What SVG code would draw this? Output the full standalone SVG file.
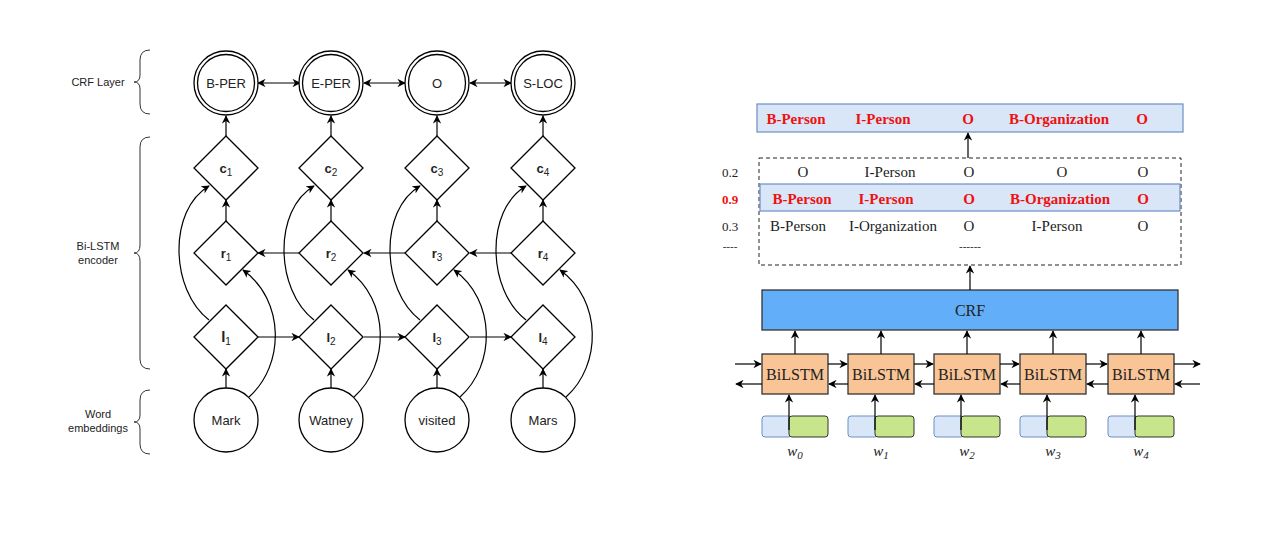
<svg xmlns="http://www.w3.org/2000/svg" width="1288" height="558" viewBox="0 0 1288 558">
<defs>
<marker id="a" viewBox="0 0 10 10" refX="9" refY="5" markerWidth="7" markerHeight="7" orient="auto-start-reverse"><path d="M0,0 L10,5 L0,10 L3,5 z" fill="#000"/></marker>
<style>
.s{font-family:"Liberation Sans",Arial,sans-serif;font-size:13px;text-anchor:middle;fill:#222}
.t{font-family:"Liberation Serif","Times New Roman",serif;font-size:15px;text-anchor:middle;fill:#222}
.r{fill:#ee1111;font-weight:bold}
.n{fill:#fff;stroke:#000;stroke-width:1.3}
.l{fill:none;stroke:#000;stroke-width:1.2}
.b{fill:none;stroke:#333;stroke-width:1}
.lb{fill:#f9c596;stroke:#333;stroke-width:1.3}
.eb{fill:#d8e6f8;stroke:#6d8fc4;stroke-width:1}
.eg{fill:#c7e58a;stroke:#333;stroke-width:1}
</style>
</defs>
<rect width="1288" height="558" fill="#fff"/>
<g id="braces" class="b">
<path d="M150,50 Q140,50 140,60 L140,75 Q140,82 134,82 Q140,82 140,89 L140,104 Q140,114 150,114"/>
<path d="M150,137 Q140,137 140,147 L140,245 Q140,253 134,253 Q140,253 140,261 L140,359 Q140,369 150,369"/>
<path d="M150,390 Q140,390 140,400 L140,415 Q140,422 134,422 Q140,422 140,429 L140,444 Q140,454 150,454"/>
</g>
<g id="left-labels" class="s" font-size="11">
<text x="98" y="86" font-size="11">CRF Layer</text>
<text x="98" y="250" font-size="11">Bi-LSTM</text>
<text x="98" y="264" font-size="11">encoder</text>
<text x="98" y="418" font-size="11">Word</text>
<text x="98" y="432" font-size="11">embeddings</text>
</g>
<g id="connectors-left" class="l" marker-end="url(#a)">
<path d="M258,83 L300,83" marker-start="url(#a)"/>
<path d="M364,83 L405,83" marker-start="url(#a)"/>
<path d="M470,83 L511,83" marker-start="url(#a)"/>
<g id="up">
<path d="M226,136 L226,116"/><path d="M331,136 L331,116"/><path d="M437,136 L437,116"/><path d="M543,136 L543,116"/>
<path d="M226,221 L226,200"/><path d="M331,221 L331,200"/><path d="M437,221 L437,200"/><path d="M543,221 L543,200"/>
<path d="M226,388 L226,369"/><path d="M331,388 L331,369"/><path d="M437,388 L437,369"/><path d="M543,388 L543,369"/>
</g>
<path d="M511,253 L470,253"/><path d="M405,253 L364,253"/><path d="M299,253 L258,253"/>
<path d="M258,337 L299,337"/><path d="M364,337 L405,337"/><path d="M470,337 L511,337"/>
<path d="M209,320 C170,290 168,210 209,186"/><path d="M314,320 C275,290 273,210 314,186"/><path d="M420,320 C381,290 379,210 420,186"/><path d="M526,320 C487,290 485,210 526,186"/>
<path d="M249,397 C285,365 285,300 243,270"/><path d="M354,397 C390,365 390,300 348,270"/><path d="M460,397 C496,365 496,300 454,270"/><path d="M566,397 C602,365 602,300 560,270"/>
</g>
<g id="crf-nodes" class="s">
<g id="bper"><circle cx="226" cy="83" r="32" class="n"/><circle cx="226" cy="83" r="28.5" class="n"/><text x="226" y="88">B-PER</text></g>
<g id="eper"><circle cx="331" cy="83" r="32" class="n"/><circle cx="331" cy="83" r="28.5" class="n"/><text x="331" y="88">E-PER</text></g>
<g id="o"><circle cx="437" cy="83" r="32" class="n"/><circle cx="437" cy="83" r="28.5" class="n"/><text x="437" y="88">O</text></g>
<g id="sloc"><circle cx="543" cy="83" r="32" class="n"/><circle cx="543" cy="83" r="28.5" class="n"/><text x="543" y="88">S-LOC</text></g>
</g>
<g id="diamonds" class="s">
<g id="c1"><path d="M226,136 L258,168 L226,200 L194,168z" class="n"/><text x="226" y="173"><tspan font-weight="bold">c</tspan><tspan font-size="10" dy="3">1</tspan></text></g>
<g id="c2"><path d="M331,136 L363,168 L331,200 L299,168z" class="n"/><text x="331" y="173"><tspan font-weight="bold">c</tspan><tspan font-size="10" dy="3">2</tspan></text></g>
<g id="c3"><path d="M437,136 L469,168 L437,200 L405,168z" class="n"/><text x="437" y="173"><tspan font-weight="bold">c</tspan><tspan font-size="10" dy="3">3</tspan></text></g>
<g id="c4"><path d="M543,136 L575,168 L543,200 L511,168z" class="n"/><text x="543" y="173"><tspan font-weight="bold">c</tspan><tspan font-size="10" dy="3">4</tspan></text></g>
<g id="r1"><path d="M226,221 L258,253 L226,285 L194,253z" class="n"/><text x="226" y="258"><tspan font-weight="bold">r</tspan><tspan font-size="10" dy="3">1</tspan></text></g>
<g id="r2"><path d="M331,221 L363,253 L331,285 L299,253z" class="n"/><text x="331" y="258"><tspan font-weight="bold">r</tspan><tspan font-size="10" dy="3">2</tspan></text></g>
<g id="r3"><path d="M437,221 L469,253 L437,285 L405,253z" class="n"/><text x="437" y="258"><tspan font-weight="bold">r</tspan><tspan font-size="10" dy="3">3</tspan></text></g>
<g id="r4"><path d="M543,221 L575,253 L543,285 L511,253z" class="n"/><text x="543" y="258"><tspan font-weight="bold">r</tspan><tspan font-size="10" dy="3">4</tspan></text></g>
<g id="l1"><path d="M226,305 L258,337 L226,369 L194,337z" class="n"/><text x="226" y="342"><tspan font-weight="bold" font-size="15">l</tspan><tspan font-size="10" dy="3">1</tspan></text></g>
<g id="l2"><path d="M331,305 L363,337 L331,369 L299,337z" class="n"/><text x="331" y="342"><tspan font-weight="bold">l</tspan><tspan font-size="10" dy="3">2</tspan></text></g>
<g id="l3"><path d="M437,305 L469,337 L437,369 L405,337z" class="n"/><text x="437" y="342"><tspan font-weight="bold">l</tspan><tspan font-size="10" dy="3">3</tspan></text></g>
<g id="l4"><path d="M543,305 L575,337 L543,369 L511,337z" class="n"/><text x="543" y="342"><tspan font-weight="bold">l</tspan><tspan font-size="10" dy="3">4</tspan></text></g>
</g>
<g id="words" class="s">
<g id="mark"><circle cx="226" cy="420" r="32" class="n"/><text x="226" y="425">Mark</text></g>
<g id="watney"><circle cx="331" cy="420" r="32" class="n"/><text x="331" y="425">Watney</text></g>
<g id="visited"><circle cx="437" cy="420" r="32" class="n"/><text x="437" y="425">visited</text></g>
<g id="mars"><circle cx="543" cy="420" r="32" class="n"/><text x="543" y="425">Mars</text></g>
</g>
<!-- right diagram -->
<g id="result" class="t">
<rect x="757" y="104" width="426" height="28" fill="#d8e6f8" stroke="#6d8fc4" stroke-width="1.2"/>
<text x="796" y="124" class="r">B-Person</text><text x="883" y="124" class="r">I-Person</text><text x="968" y="124" class="r">O</text><text x="1059" y="124" class="r">B-Organization</text><text x="1142" y="124" class="r">O</text>
</g>
<g id="candidates" class="t">
<rect x="759" y="158" width="422" height="107" fill="none" stroke="#222" stroke-dasharray="4,3"/>
<rect x="760" y="184" width="420" height="27" fill="#d8e6f8" stroke="#6d8fc4" stroke-width="1.2"/>
<text x="730" y="177" font-size="13">0.2</text>
<text x="730" y="204" font-size="13" class="r">0.9</text>
<text x="730" y="231" font-size="13">0.3</text>
<text x="730" y="250" font-size="11">----</text>
<text x="803" y="177">O</text><text x="890" y="177">I-Person</text><text x="969" y="177">O</text><text x="1062" y="177">O</text><text x="1143" y="177">O</text>
<text x="802" y="204" class="r">B-Person</text><text x="886" y="204" class="r">I-Person</text><text x="969" y="204" class="r">O</text><text x="1060" y="204" class="r">B-Organization</text><text x="1143" y="204" class="r">O</text>
<text x="798" y="231">B-Person</text><text x="893" y="231">I-Organization</text><text x="969" y="231">O</text><text x="1057" y="231">I-Person</text><text x="1143" y="231">O</text>
<text x="970" y="250" font-size="11">------</text>
</g>
<g id="crf" class="t"><rect x="762" y="290" width="416" height="40" fill="#62aef8" stroke="#333" stroke-width="1.3"/><text x="970" y="316" font-size="16">CRF</text></g>
<g id="bilstm" class="t" font-size="16">
<g id="b0"><rect x="762" y="354" width="66" height="40" class="lb"/><text x="795" y="380" font-size="16">BiLSTM</text></g>
<g id="b1"><rect x="848" y="354" width="66" height="40" class="lb"/><text x="881" y="380" font-size="16">BiLSTM</text></g>
<g id="b2"><rect x="934" y="354" width="66" height="40" class="lb"/><text x="967" y="380" font-size="16">BiLSTM</text></g>
<g id="b3"><rect x="1020" y="354" width="66" height="40" class="lb"/><text x="1053" y="380" font-size="16">BiLSTM</text></g>
<g id="b4"><rect x="1108" y="354" width="66" height="40" class="lb"/><text x="1141" y="380" font-size="16">BiLSTM</text></g>
</g>
<g id="embeddings">
<g id="e0"><rect x="762" y="416" width="30" height="21" rx="3" class="eb"/><rect x="789" y="416" width="39" height="21" rx="3" class="eg"/><text x="795" y="456" class="t" font-style="italic">w<tspan font-size="11" dy="3">0</tspan></text></g>
<g id="e1"><rect x="848" y="416" width="30" height="21" rx="3" class="eb"/><rect x="875" y="416" width="39" height="21" rx="3" class="eg"/><text x="881" y="456" class="t" font-style="italic">w<tspan font-size="11" dy="3">1</tspan></text></g>
<g id="e2"><rect x="934" y="416" width="30" height="21" rx="3" class="eb"/><rect x="961" y="416" width="39" height="21" rx="3" class="eg"/><text x="967" y="456" class="t" font-style="italic">w<tspan font-size="11" dy="3">2</tspan></text></g>
<g id="e3"><rect x="1020" y="416" width="30" height="21" rx="3" class="eb"/><rect x="1047" y="416" width="39" height="21" rx="3" class="eg"/><text x="1053" y="456" class="t" font-style="italic">w<tspan font-size="11" dy="3">3</tspan></text></g>
<g id="e4"><rect x="1108" y="416" width="30" height="21" rx="3" class="eb"/><rect x="1135" y="416" width="39" height="21" rx="3" class="eg"/><text x="1141" y="456" class="t" font-style="italic">w<tspan font-size="11" dy="3">4</tspan></text></g>
</g>
<g id="connectors-right" class="l" marker-end="url(#a)">
<path d="M968,158 L968,133"/>
<path d="M970,290 L970,266"/>
<path d="M795,354 L795,331"/><path d="M881,354 L881,331"/><path d="M967,354 L967,331"/><path d="M1053,354 L1053,331"/><path d="M1141,354 L1141,331"/>
<path d="M789,430 L789,395"/><path d="M875,430 L875,395"/><path d="M961,430 L961,395"/><path d="M1047,430 L1047,395"/><path d="M1135,430 L1135,395"/>
<path d="M735,364 L761,364"/><path d="M828,364 L847,364"/><path d="M914,364 L933,364"/><path d="M1000,364 L1019,364"/><path d="M1086,364 L1107,364"/><path d="M1174,364 L1200,364"/>
<path d="M762,384 L736,384"/><path d="M848,384 L829,384"/><path d="M934,384 L915,384"/><path d="M1020,384 L1001,384"/><path d="M1108,384 L1087,384"/><path d="M1200,384 L1175,384"/>
</g>
</svg>
